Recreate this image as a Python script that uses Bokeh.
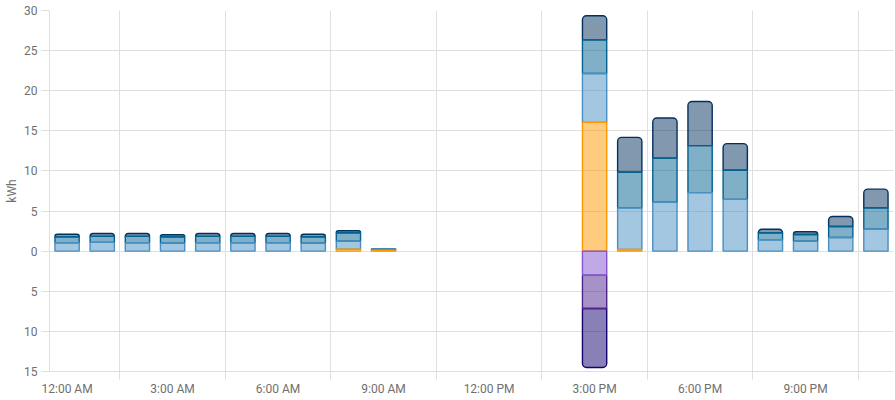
from bokeh.plotting import figure
from bokeh.models import FixedTicker, CustomJSTickFormatter, Range1d, ColumnDataSource
from bokeh.embed import file_html
from bokeh.resources import INLINE
import numpy as np

hours = list(range(24))
tick_hours = [0, 3, 6, 9, 12, 15, 18, 21]
tick_labels = ["12:00 AM", "3:00 AM", "6:00 AM", "9:00 AM", "12:00 PM", "3:00 PM", "6:00 PM", "9:00 PM"]

solar = [0, 0, 0, 0, 0, 0, 0, 0, 0.25, 0.08, 0, 0, 0, 0, 0, 16.05, 0.2, 0, 0, 0, 0, 0, 0, 0]
grid_a = [1.05, 1.1, 1.05, 1.0, 1.05, 1.05, 1.05, 1.0, 1.0, 0.1, 0, 0, 0, 0, 0, 6.1, 5.2, 6.1, 7.3, 6.45, 1.42, 1.25, 1.71, 2.74]
grid_b = [0.75, 0.75, 0.8, 0.8, 0.8, 0.8, 0.8, 0.8, 1.05, 0.1, 0, 0, 0, 0, 0, 4.2, 4.45, 5.5, 5.85, 3.65, 0.87, 0.83, 1.37, 2.67]
grid_c = [0.3, 0.35, 0.35, 0.25, 0.35, 0.35, 0.35, 0.3, 0.25, 0, 0, 0, 0, 0, 0, 3.0, 4.33, 5.0, 5.5, 3.3, 0.45, 0.34, 1.25, 2.32]
return_a = [0] * 15 + [3.0] + [0] * 8
return_b = [0] * 15 + [4.15] + [0] * 8
return_c = [0] * 15 + [7.35] + [0] * 8

pos_series = [(solar, "#ff9800"), (grid_a, "#488fc2"), (grid_b, "#016191"), (grid_c, "#03315d")]
neg_series = [(return_a, "#8353d1"), (return_b, "#4d258d"), (return_c, "#150171")]

TEXT = "#6f6f6f"
GRID = "#dfdfdf"

p = figure(width=895, height=400, x_range=Range1d(-0.5, 23.5), y_range=Range1d(-15, 30),
           output_backend="svg", toolbar_location=None,
           min_border_left=49, min_border_right=2, min_border_top=10, min_border_bottom=29)
p.outline_line_color = None
p.background_fill_color = "white"

W = 0.69

def draw(series, sign):
    base = np.zeros(len(hours))
    n = len(series)
    segs = []
    for i, (vals, col) in enumerate(series):
        v = np.array(vals, dtype=float)
        b = base.copy()
        t = base + sign * v
        base = t
        m = v > 0
        segs.append((i, col, np.array(hours)[m], b[m], t[m]))
    # draw outermost first so inner segments' edges lie on top
    for i, col, x, b, t in reversed(segs):
        src = ColumnDataSource(dict(x=x, bottom=b, top=t))
        kw = {}
        if i == n - 1:
            kw["border_radius"] = (4, 4, 0, 0) if sign > 0 else (0, 0, 4, 4)
        p.vbar(x="x", bottom="bottom", top="top", width=W, source=src,
               fill_color=col, fill_alpha=0.5, line_color=col, line_width=1.4, **kw)

draw(pos_series, 1)
draw(neg_series, -1)

# y axis
p.yaxis.ticker = FixedTicker(ticks=list(range(-15, 31, 5)))
p.yaxis.formatter = CustomJSTickFormatter(code="return Math.abs(tick).toString();")
p.yaxis.axis_label = "kWh"
p.yaxis.axis_label_text_font = "Roboto"
p.yaxis.axis_label_text_font_size = "12px"
p.yaxis.axis_label_text_font_style = "normal"
p.yaxis.axis_label_text_color = TEXT
p.yaxis.axis_label_standoff = 2
p.yaxis.major_label_text_font = "Roboto"
p.yaxis.major_label_text_font_size = "12px"
p.yaxis.major_label_text_color = TEXT
p.yaxis.major_label_standoff = 4
p.yaxis.major_tick_out = 8
p.yaxis.major_tick_in = 0
p.yaxis.major_tick_line_color = GRID
p.yaxis.minor_tick_line_color = None
p.yaxis.axis_line_color = GRID
p.ygrid.grid_line_color = GRID

# x axis
p.xaxis.ticker = FixedTicker(ticks=tick_hours, minor_ticks=[h - 1.5 for h in tick_hours] + [22.5])
p.xaxis.major_label_overrides = {h: lab for h, lab in zip(tick_hours, tick_labels)}
p.xaxis.major_label_text_font = "Roboto"
p.xaxis.major_label_text_font_size = "12px"
p.xaxis.major_label_text_color = TEXT
p.xaxis.major_label_standoff = 2
p.xaxis.major_tick_out = 0
p.xaxis.major_tick_in = 0
p.xaxis.minor_tick_out = 8
p.xaxis.minor_tick_in = 0
p.xaxis.minor_tick_line_color = GRID
p.xaxis.axis_line_color = GRID
p.xgrid.ticker = FixedTicker(ticks=[h - 1.5 for h in tick_hours] + [22.5])
p.xgrid.grid_line_color = GRID

open("out.html", "w").write(file_html(p, INLINE))
